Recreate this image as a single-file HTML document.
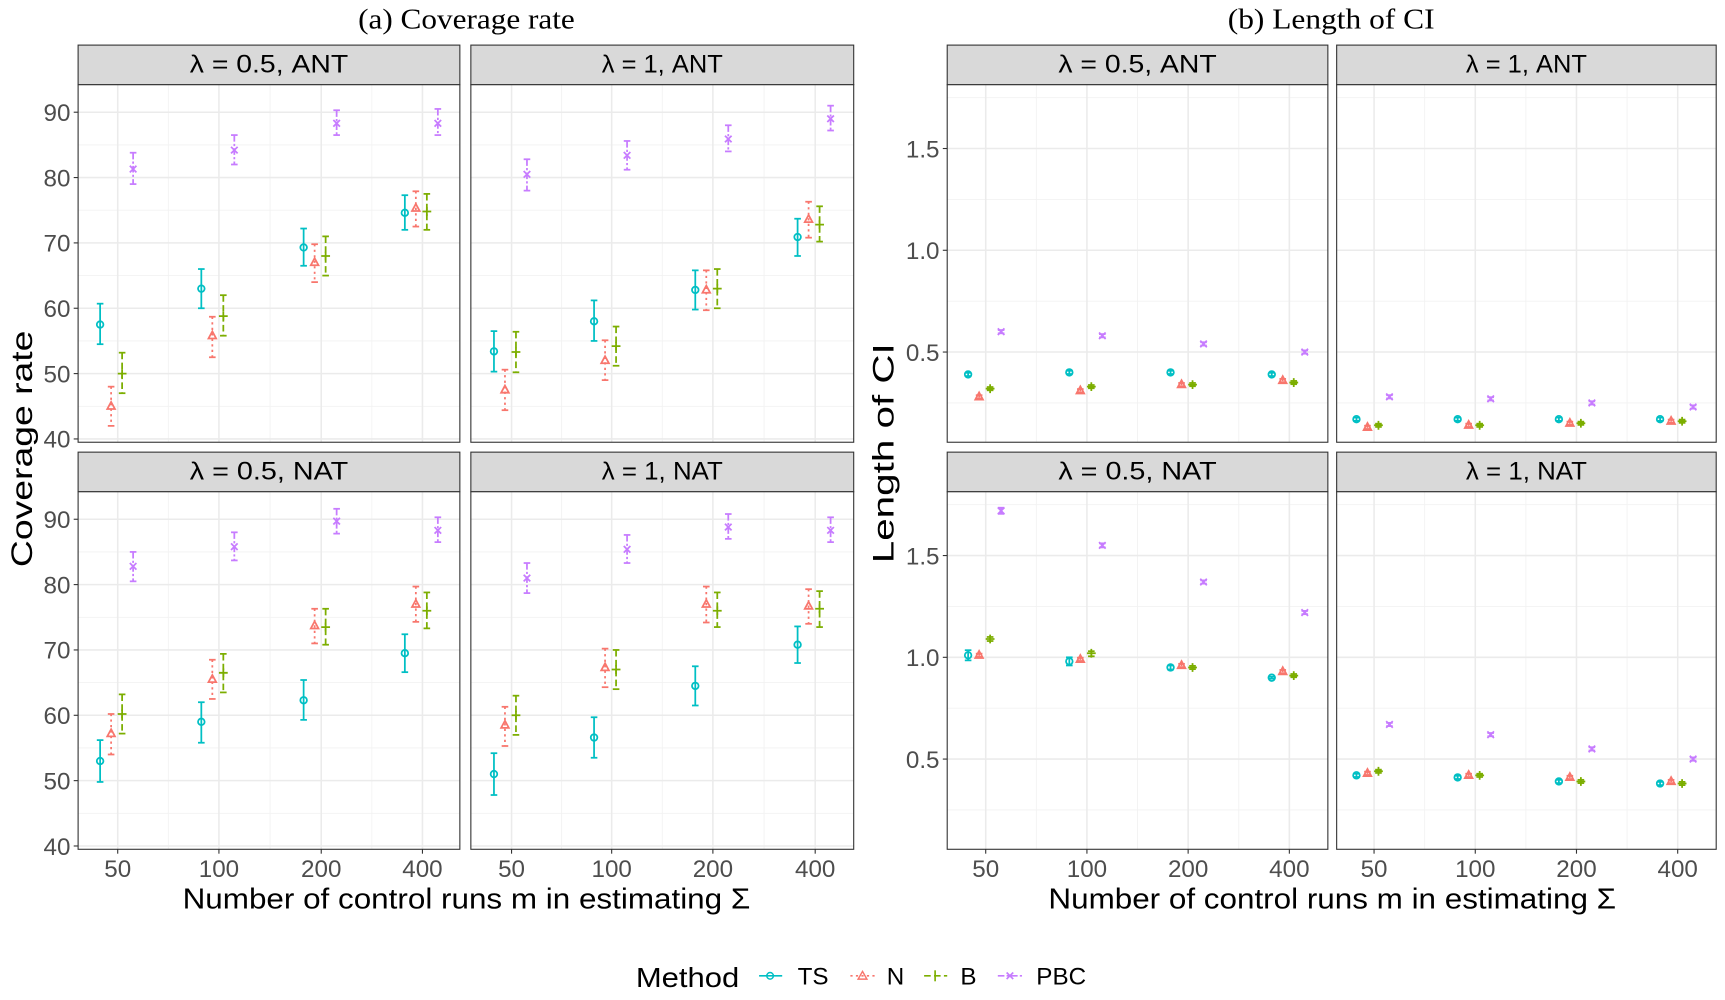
<!DOCTYPE html>
<html><head><meta charset="utf-8"><style>
html,body{margin:0;padding:0;background:#fff}
svg{display:block}
text{font-family:"Liberation Sans",sans-serif}
</style></head><body>
<svg id="s" width="1725" height="1000" viewBox="0 0 1568 909" preserveAspectRatio="none" xmlns="http://www.w3.org/2000/svg">
<text x="424" y="26" text-anchor="middle" style="font-family:'Liberation Serif',serif" font-size="26" textLength="197" lengthAdjust="spacingAndGlyphs">(a) Coverage rate</text>
<text x="1210" y="26" text-anchor="middle" style="font-family:'Liberation Serif',serif" font-size="26" textLength="188" lengthAdjust="spacingAndGlyphs">(b) Length of CI</text>
<text transform="translate(29,408) rotate(-90)" text-anchor="middle" font-size="27" textLength="215" lengthAdjust="spacingAndGlyphs">Coverage rate</text>
<text transform="translate(812,412) rotate(-90)" text-anchor="middle" font-size="27" textLength="200" lengthAdjust="spacingAndGlyphs">Length of CI</text>
<text x="424" y="826" text-anchor="middle" font-size="26" textLength="516" lengthAdjust="spacingAndGlyphs">Number of control runs m in estimating Σ</text>
<text x="1211" y="826" text-anchor="middle" font-size="26" textLength="516" lengthAdjust="spacingAndGlyphs">Number of control runs m in estimating Σ</text>
<g id="g"></g>
<g>
<text x="578" y="897" font-size="25" textLength="94" lengthAdjust="spacingAndGlyphs">Method</text>
<line x1="690" y1="887" x2="711" y2="887" stroke="#00BFC4" stroke-width="1.5"/><circle cx="700" cy="887" r="3" fill="none" stroke="#00BFC4" stroke-width="1.3"/>
<text x="725" y="895" font-size="22">TS</text>
<line x1="773" y1="887" x2="795" y2="887" stroke="#F8766D" stroke-width="1.5" stroke-dasharray="2,3"/><path d="M784,883 L788,890 L780,890Z" fill="none" stroke="#F8766D" stroke-width="1.3"/>
<text x="806" y="895" font-size="22">N</text>
<line x1="840" y1="887" x2="861" y2="887" stroke="#7CAE00" stroke-width="1.5" stroke-dasharray="6,3"/><path d="M850,882 V892" stroke="#7CAE00" stroke-width="1.5"/>
<text x="873" y="895" font-size="22">B</text>
<line x1="907" y1="887" x2="929" y2="887" stroke="#C77CFF" stroke-width="1.5" stroke-dasharray="6,2,2,2"/><path d="M915,884 L921,890 M921,884 L915,890" stroke="#C77CFF" stroke-width="1.5"/>
<text x="942" y="895" font-size="22">PBC</text>
</g>
</svg>
<script>
const g=document.getElementById('g');let h='';
const C=['#00BFC4','#F8766D','#7CAE00','#C77CFF'];
const D=['none','2,3','6,3','6,2,2,2'];
const off=[-16,-6,4,14];
function panel(x0,x1,yt,yb,strip,ticksX,yfun,yticks,yminor,showY,data,showX,sw){
 h+=`<rect x="${x0}" y="${yt-36}" width="${x1-x0}" height="36" fill="#d9d9d9" stroke="#333" stroke-width="1"/>`;
 h+=`<text x="${(x0+x1)/2}" y="${yt-11}" text-anchor="middle" font-size="23" textLength="${sw}" lengthAdjust="spacingAndGlyphs">${strip}</text>`;
 h+=`<rect x="${x0}" y="${yt}" width="${x1-x0}" height="${yb-yt}" fill="#fff"/>`;
 yminor.forEach(v=>{const y=yfun(v);if(y>yt&&y<yb)h+=`<line x1="${x0}" x2="${x1}" y1="${y}" y2="${y}" stroke="#f2f2f2" stroke-width="0.8"/>`});
 for(let i=0;i<3;i++){const x=(ticksX[i]+ticksX[i+1])/2;h+=`<line x1="${x}" x2="${x}" y1="${yt}" y2="${yb}" stroke="#f2f2f2" stroke-width="0.8"/>`;}
 yticks.forEach(v=>{const y=yfun(v);h+=`<line x1="${x0}" x2="${x1}" y1="${y}" y2="${y}" stroke="#ebebeb" stroke-width="1.4"/>`;
  if(showY){h+=`<line x1="${x0-4}" x2="${x0}" y1="${y}" y2="${y}" stroke="#333"/><text x="${x0-7}" y="${y+8}" text-anchor="end" font-size="22" fill="#4d4d4d">${v.label}</text>`;}});
 ticksX.forEach((x,i)=>{h+=`<line x1="${x}" x2="${x}" y1="${yt}" y2="${yb}" stroke="#ebebeb" stroke-width="1.4"/>`;
  if(showX){h+=`<line x1="${x}" x2="${x}" y1="${yb}" y2="${yb+4}" stroke="#333"/><text x="${x}" y="${yb+25}" text-anchor="middle" font-size="22" fill="#4d4d4d">${[50,100,200,400][i]}</text>`;}});
 data.forEach((ser,m)=>ser.forEach((d,i)=>{
  const x=ticksX[i]+off[m],y=yfun(d[0]),lo=yfun(d[1]),hi=yfun(d[2]),c=C[m];
  h+=`<g stroke="${c}" stroke-width="1.6" fill="none"><line x1="${x}" x2="${x}" y1="${hi}" y2="${lo}" stroke-dasharray="${D[m]}"/><line x1="${x-3}" x2="${x+3}" y1="${hi}" y2="${hi}"/><line x1="${x-3}" x2="${x+3}" y1="${lo}" y2="${lo}"/>`;
  if(m==0)h+=`<circle cx="${x}" cy="${y}" r="3"/>`;
  if(m==1)h+=`<path d="M${x},${y-4} L${x+3.5},${y+2.5} L${x-3.5},${y+2.5}Z"/>`;
  if(m==2)h+=`<path d="M${x-4},${y} H${x+4} M${x},${y-4} V${y+4}"/>`;
  if(m==3)h+=`<path d="M${x-3},${y-3} L${x+3},${y+3} M${x+3},${y-3} L${x-3},${y+3}"/>`;
  h+='</g>';
 }));
 h+=`<rect x="${x0}" y="${yt}" width="${x1-x0}" height="${yb-yt}" fill="none" stroke="#333" stroke-width="1"/>`;
}
function L(a){return a.map(s=>s.map(d=>Array.isArray(d)?d:[d,d-0.008,d+0.008]));}
const cvB=v=>769-(v-40)*5.94;
const cyT=[40,50,60,70,80,90].map(v=>{const o=new Number(v);o.label=v;return o});
const cyM=[45,55,65,75,85];
const lT=v=>320-(v-0.5)*185, lB=v=>690-(v-0.5)*185;
const lyT=[0.5,1.0,1.5].map(v=>{const o=new Number(v);o.label=v.toFixed(1);return o});
const lyM=[0.25,0.75,1.25,1.75];
const A=[
[[[57.5,54.5,60.7],[63,60,66],[69.3,66.5,72.2],[74.6,72,77.3]],[[45,42,48],[55.8,52.5,58.7],[67,64,69.8],[75.3,72.5,77.9]],[[50,47,53.2],[58.8,55.8,62],[68,65,71],[74.8,72,77.5]],[[81.3,79,83.8],[84.2,82,86.5],[88.3,86.5,90.3],[88.3,86.5,90.5]]],
[[[53.4,50.3,56.5],[58,55,61.2],[62.8,59.8,65.8],[70.9,68,73.7]],[[47.5,44.4,50.6],[52,49,55.1],[62.8,59.7,65.8],[73.6,70.8,76.3]],[[53.3,50.2,56.4],[54.2,51.2,57.2],[63,60,66],[72.8,70.2,75.6]],[[80.5,78,82.8],[83.4,81.2,85.6],[85.9,84,88],[89,87.2,91]]],
[[[53,49.8,56.2],[59,55.8,62],[62.3,59.3,65.4],[69.5,66.6,72.4]],[[57.2,54,60.2],[65.5,62.5,68.5],[73.7,71,76.3],[77,74.3,79.7]],[[60.2,57.2,63.2],[66.5,63.5,69.4],[73.5,70.8,76.3],[76,73.3,78.8]],[[82.8,80.5,85],[85.8,83.7,88],[89.7,87.8,91.6],[88.3,86.5,90.3]]],
[[[51,47.8,54.2],[56.6,53.5,59.7],[64.5,61.5,67.5],[70.8,68,73.6]],[[58.5,55.3,61.3],[67.3,64.3,70.2],[77,74.2,79.7],[76.7,74,79.3]],[[60,57,63],[67,64,70],[76,73.5,78.8],[76.3,73.5,79]],[[81,78.7,83.3],[85.4,83.3,87.6],[88.8,87,90.8],[88.3,86.5,90.3]]]];
const B=[
L([[.39,.40,.40,.39],[.28,.31,.34,.36],[.32,.33,.34,.35],[.60,.58,.54,.50]]),
L([[.17,.17,.17,.17],[.13,.14,.15,.16],[.14,.14,.15,.16],[.28,.27,.25,.23]]),
L([[[1.01,.985,1.035],[.98,.96,1.0],[.95,.94,.96],[.90,.895,.905]],[1.01,.99,.96,.93],[[1.09,1.08,1.10],[1.02,1.005,1.03],.95,.91],[[1.72,1.705,1.735],[1.55,1.54,1.56],1.37,1.22]]),
L([[.42,.41,.39,.38],[.43,.42,.41,.39],[.44,.42,.39,.38],[.67,.62,.55,.50]])];
const tx1=[107,199,292,384],tx2=[465,556,648,741],tx3=[896,988,1080,1172],tx4=[1249,1341,1433,1525];
const cvT=v=>399-(v-40)*5.94;
panel(71,418,77,402,'λ = 0.5, ANT',tx1,cvT,cyT,cyM,true,A[0],false,144);
panel(428,776,77,402,'λ = 1, ANT',tx2,cvT,cyT,cyM,false,A[1],false,110);
panel(71,418,447,772,'λ = 0.5, NAT',tx1,cvB,cyT,cyM,true,A[2],true,144);
panel(428,776,447,772,'λ = 1, NAT',tx2,cvB,cyT,cyM,false,A[3],true,110);
panel(861,1207,77,402,'λ = 0.5, ANT',tx3,lT,lyT,lyM,true,B[0],false,144);
panel(1215,1560,77,402,'λ = 1, ANT',tx4,lT,lyT,lyM,false,B[1],false,110);
panel(861,1207,447,772,'λ = 0.5, NAT',tx3,lB,lyT,lyM,true,B[2],true,144);
panel(1215,1560,447,772,'λ = 1, NAT',tx4,lB,lyT,lyM,false,B[3],true,110);
g.innerHTML=h;
</script>
</body></html>
